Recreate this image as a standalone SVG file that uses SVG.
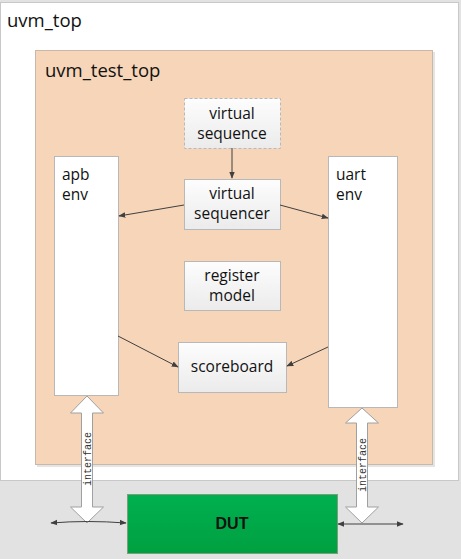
<svg xmlns="http://www.w3.org/2000/svg" width="461" height="559" viewBox="0 0 461 559">
<style>
.t{font-family:"Open Sans","Liberation Sans",sans-serif;font-size:15.5px;fill:#111}
.h{font-family:"Open Sans","Liberation Sans",sans-serif;font-size:18.5px;fill:#111}
.box{fill:url(#g);stroke:#b8b8b8;stroke-width:1}
.env{fill:#fff;stroke:#b8b8b8;stroke-width:1}
.con{stroke:#404040;stroke-width:1;fill:none}
.iface{fill:#fff;stroke:#a0a0a0;stroke-width:1}
.it{font-family:"Liberation Mono",monospace;font-size:10px;fill:#333}
</style>
<defs>
<linearGradient id="g" x1="0" y1="0" x2="0" y2="1"><stop offset="0" stop-color="#fdfdfd"/><stop offset="1" stop-color="#ebebeb"/></linearGradient>
<linearGradient id="gd" x1="0" y1="0" x2="0" y2="1"><stop offset="0" stop-color="#00b050"/><stop offset="1" stop-color="#00a040"/></linearGradient>
<marker id="a" viewBox="0 0 10 10" refX="9" refY="5" markerWidth="7" markerHeight="7" orient="auto-start-reverse"><path d="M0,1 L10,5 L0,9 z" fill="#404040"/></marker>
</defs>
<rect width="461" height="559" fill="#e2e2e2"/>
<g id="uvm_top">
<rect x="0.5" y="2.5" width="458" height="478" fill="#fff" stroke="#c8c8c8"/>
<text class="h" x="7" y="27">uvm_top</text>
</g>
<g id="uvm_test_top">
<rect x="37" y="52" width="398" height="415" fill="#e4e4e4"/>
<rect x="35.5" y="50.5" width="397" height="414" fill="#f6d5b8" stroke="#c8b8a8"/>
<text class="h" x="45" y="77">uvm_test_top</text>
</g>
<g id="virtual_sequence">
<rect x="184.5" y="98.5" width="96" height="50" class="box" stroke-dasharray="3,2" stroke="#999"/>
<text class="t" text-anchor="middle" x="232" y="119">virtual</text>
<text class="t" text-anchor="middle" x="232" y="139">sequence</text>
</g>
<g id="virtual_sequencer">
<rect x="184.5" y="179.5" width="96" height="50" class="box"/>
<text class="t" text-anchor="middle" x="232" y="199">virtual</text>
<text class="t" text-anchor="middle" x="232" y="219">sequencer</text>
</g>
<g id="apb_env">
<rect x="54.5" y="156.5" width="64" height="239" class="env"/>
<text class="t" x="62" y="180">apb</text>
<text class="t" x="62" y="200">env</text>
</g>
<g id="uart_env">
<rect x="328.5" y="156.5" width="69" height="251" class="env"/>
<text class="t" x="336" y="180">uart</text>
<text class="t" x="336" y="200">env</text>
</g>
<g id="register_model">
<rect x="184.5" y="261.5" width="96" height="49" class="box"/>
<text class="t" text-anchor="middle" x="232" y="281">register</text>
<text class="t" text-anchor="middle" x="232" y="301">model</text>
</g>
<g id="scoreboard">
<rect x="178.5" y="342.5" width="108" height="50" class="box"/>
<text class="t" text-anchor="middle" x="232" y="372">scoreboard</text>
</g>
<g id="DUT">
<rect x="127.5" y="494.5" width="210" height="59" fill="url(#gd)" stroke="#7aa07a"/>
<text x="232" y="529" text-anchor="middle" font-family="'Liberation Sans',sans-serif" font-weight="bold" font-size="16" fill="#111">DUT</text>
</g>
<g id="connectors">
<line class="con" x1="232" y1="148" x2="232" y2="178" marker-end="url(#a)"/>
<line class="con" x1="184" y1="205" x2="119" y2="216" marker-end="url(#a)"/>
<line class="con" x1="280" y1="205" x2="328" y2="218" marker-end="url(#a)"/>
<line class="con" x1="118" y1="336" x2="178" y2="367" marker-end="url(#a)"/>
<line class="con" x1="328" y1="347" x2="287" y2="366" marker-end="url(#a)"/>
<path class="iface" d="M87,396 L103.5,413 L92.5,413 L92.5,507 L103.5,507 L87,523 L70.5,507 L81.5,507 L81.5,413 L70.5,413 Z"/>
<text class="it" transform="translate(90.5,459) rotate(-90)" text-anchor="middle">interface</text>
<path class="iface" d="M362,408 L378.5,423 L367.5,423 L367.5,507 L378.5,507 L362,523 L345.5,507 L356.5,507 L356.5,423 L345.5,423 Z"/>
<text class="it" transform="translate(365.5,465) rotate(-90)" text-anchor="middle">interface</text>
<path class="con" d="M51,523 Q87,520 126,523" stroke="#707070" marker-start="url(#a)" marker-end="url(#a)"/>
<line class="con" x1="338" y1="524" x2="403" y2="524" stroke="#707070" marker-start="url(#a)" marker-end="url(#a)"/>
</g>
</svg>
